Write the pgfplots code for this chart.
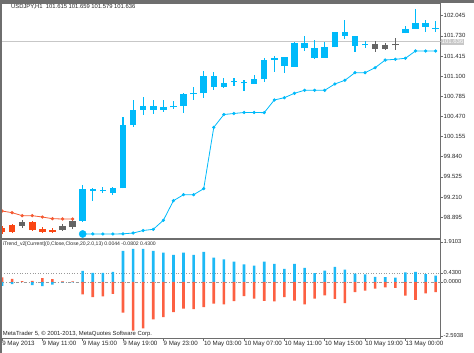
\documentclass[border=0pt]{standalone}
\usepackage{fontspec}
\setmainfont{Liberation Sans}
\usepackage{pgfplots}
\pgfplotsset{compat=1.18}
\usepackage{pgfplotstable}
\usetikzlibrary{calc}

\definecolor{mtblue}{RGB}{0,186,250}
\definecolor{mtred}{RGB}{250,70,20}
\definecolor{mtgrey}{RGB}{100,100,100}
\definecolor{indblue}{RGB}{30,185,245}
\definecolor{indred}{RGB}{252,96,66}
\definecolor{linered}{RGB}{245,90,50}
\definecolor{frame}{RGB}{110,110,110}

% candles: x, wick low, body low, body high, wick high
\pgfplotstableread{
x lo bl bh hi
8 98.836 98.841 99.331 99.398
9 99.148 99.305 99.336 99.356
10 99.273 99.300 99.316 99.367
11 99.242 99.278 99.347 99.372
12 99.347 99.347 100.336 100.457
13 100.300 100.336 100.571 100.727
14 100.493 100.571 100.638 100.779
15 100.504 100.571 100.638 100.727
16 100.544 100.571 100.622 100.727
17 100.586 100.612 100.628 100.716
18 100.519 100.633 100.821 100.832
19 100.727 100.816 100.841 100.935
20 100.754 100.832 101.102 101.180
21 100.883 100.935 101.107 101.165
22 100.926 100.935 100.997 101.076
23 100.946 101.001 101.017 101.066
24 100.872 100.988 101.008 101.040
25 100.977 100.977 101.055 101.118
26 101.013 101.051 101.352 101.379
27 101.169 101.352 101.379 101.415
28 101.144 101.258 101.394 101.394
29 101.248 101.248 101.613 101.638
30 101.498 101.535 101.613 101.727
31 101.363 101.388 101.535 101.665
32 101.388 101.388 101.551 101.638
33 101.551 101.551 101.785 101.785
34 101.680 101.732 101.785 101.977
35 101.482 101.576 101.727 101.727
36 101.535 101.582 101.598 101.654
40 101.770 101.770 101.837 101.884
41 101.837 101.837 101.935 102.145
42 101.785 101.873 101.935 101.977
43 101.785 101.840 101.856 101.966
}\bluecandles

\pgfplotstableread{
x lo bl bh hi
0 98.633 98.664 98.726 98.758
1 98.644 98.669 98.773 98.789
3 98.680 98.695 98.816 98.836
4 98.644 98.669 98.706 98.747
5 98.653 98.669 98.695 98.731
}\redcandles

\pgfplotstableread{
x lo bl bh hi
2 98.722 98.762 98.816 98.851
6 98.680 98.695 98.758 98.789
7 98.706 98.747 98.836 98.862
37 101.482 101.524 101.602 101.654
38 101.509 101.524 101.587 101.623
39 101.509 101.580 101.596 101.691
}\greycandles

\pgfplotstableread{
x y
0 -0.19
1 -0.11
2 -0.02
3 -0.16
4 -0.21
5 -0.13
6 -0.03
7 -0.03
8 0.526
9 0.43
10 0.43
11 0.478
12 1.48
13 1.58
14 1.58
15 1.48
16 1.40
17 1.29
18 1.40
19 1.29
20 1.43
21 1.16
22 1.08
23 0.97
24 0.83
25 0.78
26 0.97
27 0.86
28 0.62
29 0.86
30 0.67
31 0.42
32 0.54
33 0.71
34 0.58
35 0.39
36 0.36
37 0.23
38 0.22
39 0.20
40 0.45
41 0.47
42 0.37
43 0.30
}\bulls

\pgfplotstableread{
x y
0 0.21
1 0.14
2 0.03
3 0.05
4 0.175
5 0.13
6 0.02
7 0.02
8 -0.605
9 -0.733
10 -0.70
11 -0.573
12 -1.48
13 -2.34
14 -2.23
15 -1.80
16 -1.69
17 -1.45
18 -1.29
19 -1.31
20 -1.21
21 -1.05
22 -1.08
23 -0.92
24 -0.685
25 -0.80
26 -0.91
27 -0.94
28 -0.74
29 -0.90
30 -1.08
31 -0.80
32 -0.65
33 -0.82
34 -1.02
35 -0.50
36 -0.42
37 -0.33
38 -0.27
39 -0.29
40 -0.66
41 -0.87
42 -0.56
43 -0.50
}\bears

\newcommand{\candles}[3]{%
  \addplot[draw=none, mark=none, forget plot,
    error bars/.cd, y dir=both, y explicit, error mark=none,
    error bar style={draw=#2, line width=1.1pt}]
    table[x=x, y=bl, y error plus expr=\thisrow{hi}-\thisrow{bl},
          y error minus expr=\thisrow{bl}-\thisrow{lo}] {#1};
  \addplot[draw=none, mark=none, forget plot,
    error bars/.cd, y dir=plus, y explicit, error mark=none,
    error bar style={draw=#2, line width=#3}]
    table[x=x, y=bl, y error plus expr=\thisrow{bh}-\thisrow{bl}] {#1};
}

\begin{document}
\begin{tikzpicture}
% main price panel
\begin{axis}[
  name=main, at={(0,0)}, anchor=north west,
  scale only axis, width=439.2pt, height=235pt,
  xmin=-0.05, xmax=43.5, ymin=98.570, ymax=102.243,
  axis line style={draw=frame, line width=0.8pt},
  xtick=\empty,
  ytick={98.895,99.210,99.525,99.840,100.155,100.470,100.785,101.100,101.415,101.730,102.045},
  yticklabels={98.895,99.210,99.525,99.840,100.155,100.470,100.785,101.100,101.415,101.730,102.045},
  ytick pos=right, yticklabel pos=right,
  tick align=outside, major tick length=2pt,
  tick style={draw=frame, line width=0.6pt},
  yticklabel style={font=\fontsize{6}{7}\selectfont, inner sep=0.8pt, text=black!85},
  extra y ticks={101.636},
  extra y tick labels={101.636},
  extra y tick style={major tick length=0pt,
     yticklabel style={fill=black!22, text=white, inner sep=0.8pt}},
  clip=true,
]
\addplot[black!22, line width=0.7pt, forget plot] coordinates {(-0.05,101.636) (43.5,101.636)};
\addplot[linered, line width=0.8pt, mark=*, mark size=1.2pt, mark options={fill=linered, draw=linered}]
  coordinates {(0,98.992) (1,98.966) (2,98.919) (3,98.919) (4,98.898) (5,98.872) (6,98.867) (7,98.867)};
\addplot[mtblue, line width=0.8pt, mark=*, mark size=1.2pt, mark options={fill=mtblue, draw=mtblue}]
  coordinates {(8,98.633) (9,98.633) (10,98.633) (11,98.633) (12,98.635) (13,98.648) (14,98.687)
   (15,98.706) (16,98.847) (17,99.153) (18,99.247) (19,99.247) (20,99.341) (21,100.300)
   (22,100.500) (23,100.516) (24,100.532) (25,100.532) (26,100.529) (27,100.727) (28,100.763)
   (29,100.832) (30,100.879) (31,100.879) (32,100.879) (33,100.977) (34,101.035) (35,101.154)
   (36,101.154) (37,101.232) (38,101.352) (39,101.363) (40,101.379) (41,101.493) (42,101.493) (43,101.493)};
\addplot[only marks, mark=*, mark size=3.6pt, mark options={fill=mtblue, draw=mtblue}] coordinates {(8,98.633)};
\candles{\redcandles}{mtred}{6.5pt}
\candles{\greycandles}{mtgrey}{6.5pt}
\candles{\bluecandles}{mtblue}{6.5pt}
\node[anchor=north west, inner sep=0pt, xshift=9.5pt, yshift=-1.6pt,
  font=\fontsize{5.85}{7}\selectfont, text=black!85] at (rel axis cs:0,1)
  {USDJPY,H1\ \ 101.615 101.659 101.579 101.636};
\end{axis}

% indicator panel
\begin{axis}[
  name=ind, at={($(main.south west)+(0,-1.5pt)$)}, anchor=north west,
  scale only axis, width=439.2pt, height=99pt,
  xmin=-0.05, xmax=43.5, ymin=-2.716, ymax=2.026,
  axis line style={draw=frame, line width=0.8pt},
  xtick={0,4,8,12,16,20,24,28,32,36,40},
  xticklabels={9 May 2013, 9 May 11:00, 9 May 15:00, 9 May 19:00, 9 May 23:00,
    10 May 03:00, 10 May 07:00, 10 May 11:00, 10 May 15:00, 10 May 19:00, 13 May 00:00},
  xtick pos=bottom,
  xticklabel style={anchor=north west, inner sep=0.6pt, xshift=-0.5pt,
    font=\fontsize{6.2}{7}\selectfont, text=black!85},
  ytick={-2.5938,0,0.43,1.9103},
  yticklabels={-2.5938,0.0000,0.4300,1.9103},
  ytick pos=right, yticklabel pos=right,
  tick align=outside, major tick length=2pt,
  tick style={draw=frame, line width=0.6pt},
  yticklabel style={font=\fontsize{5.8}{7}\selectfont, inner sep=0.8pt, text=black!85},
  clip=true,
]
\addplot[black!40, dotted, line width=0.6pt, forget plot] coordinates {(-0.05,0.43) (43.5,0.43)};
\addplot[black!40, dash dot, line width=0.6pt, forget plot] coordinates {(-0.05,0) (43.5,0)};
\addplot[ybar, bar width=2.6pt, bar shift=0pt, fill=indblue, draw=none] table[x=x,y=y] {\bulls};
\addplot[ybar, bar width=2.6pt, bar shift=0pt, fill=indred, draw=none] table[x=x,y=y] {\bears};
\node[anchor=north west, inner sep=0pt, xshift=1.2pt, yshift=-2.2pt,
  font=\fontsize{5.1}{6}\selectfont, text=black!85] at (rel axis cs:0,1)
  {iTrend\_v2[Current](0,Close,Close,20,2.0,13) 0.0044 -0.0802 0.4300};
\node[anchor=south west, inner sep=0pt, xshift=1.2pt, yshift=1.6pt,
  font=\fontsize{5.9}{7}\selectfont, text=black!85] at (rel axis cs:0,0)
  {MetaTrader 5, © 2001-2013, MetaQuotes Software Corp.};
\end{axis}
\fill[frame] ($(main.north west)+(-1.5pt,3pt)$) rectangle ($(ind.south west)+(0.7pt,-14.5pt)$);
\fill[frame] ($(main.north west)+(-1.5pt,3pt)$) rectangle ($(main.north east)+(33.3pt,0.4pt)$);
\useasboundingbox ($(main.north west)+(-1.5pt,3pt)$) rectangle ($(ind.south east)+(33.3pt,-14.5pt)$);
\end{tikzpicture}
\end{document}
